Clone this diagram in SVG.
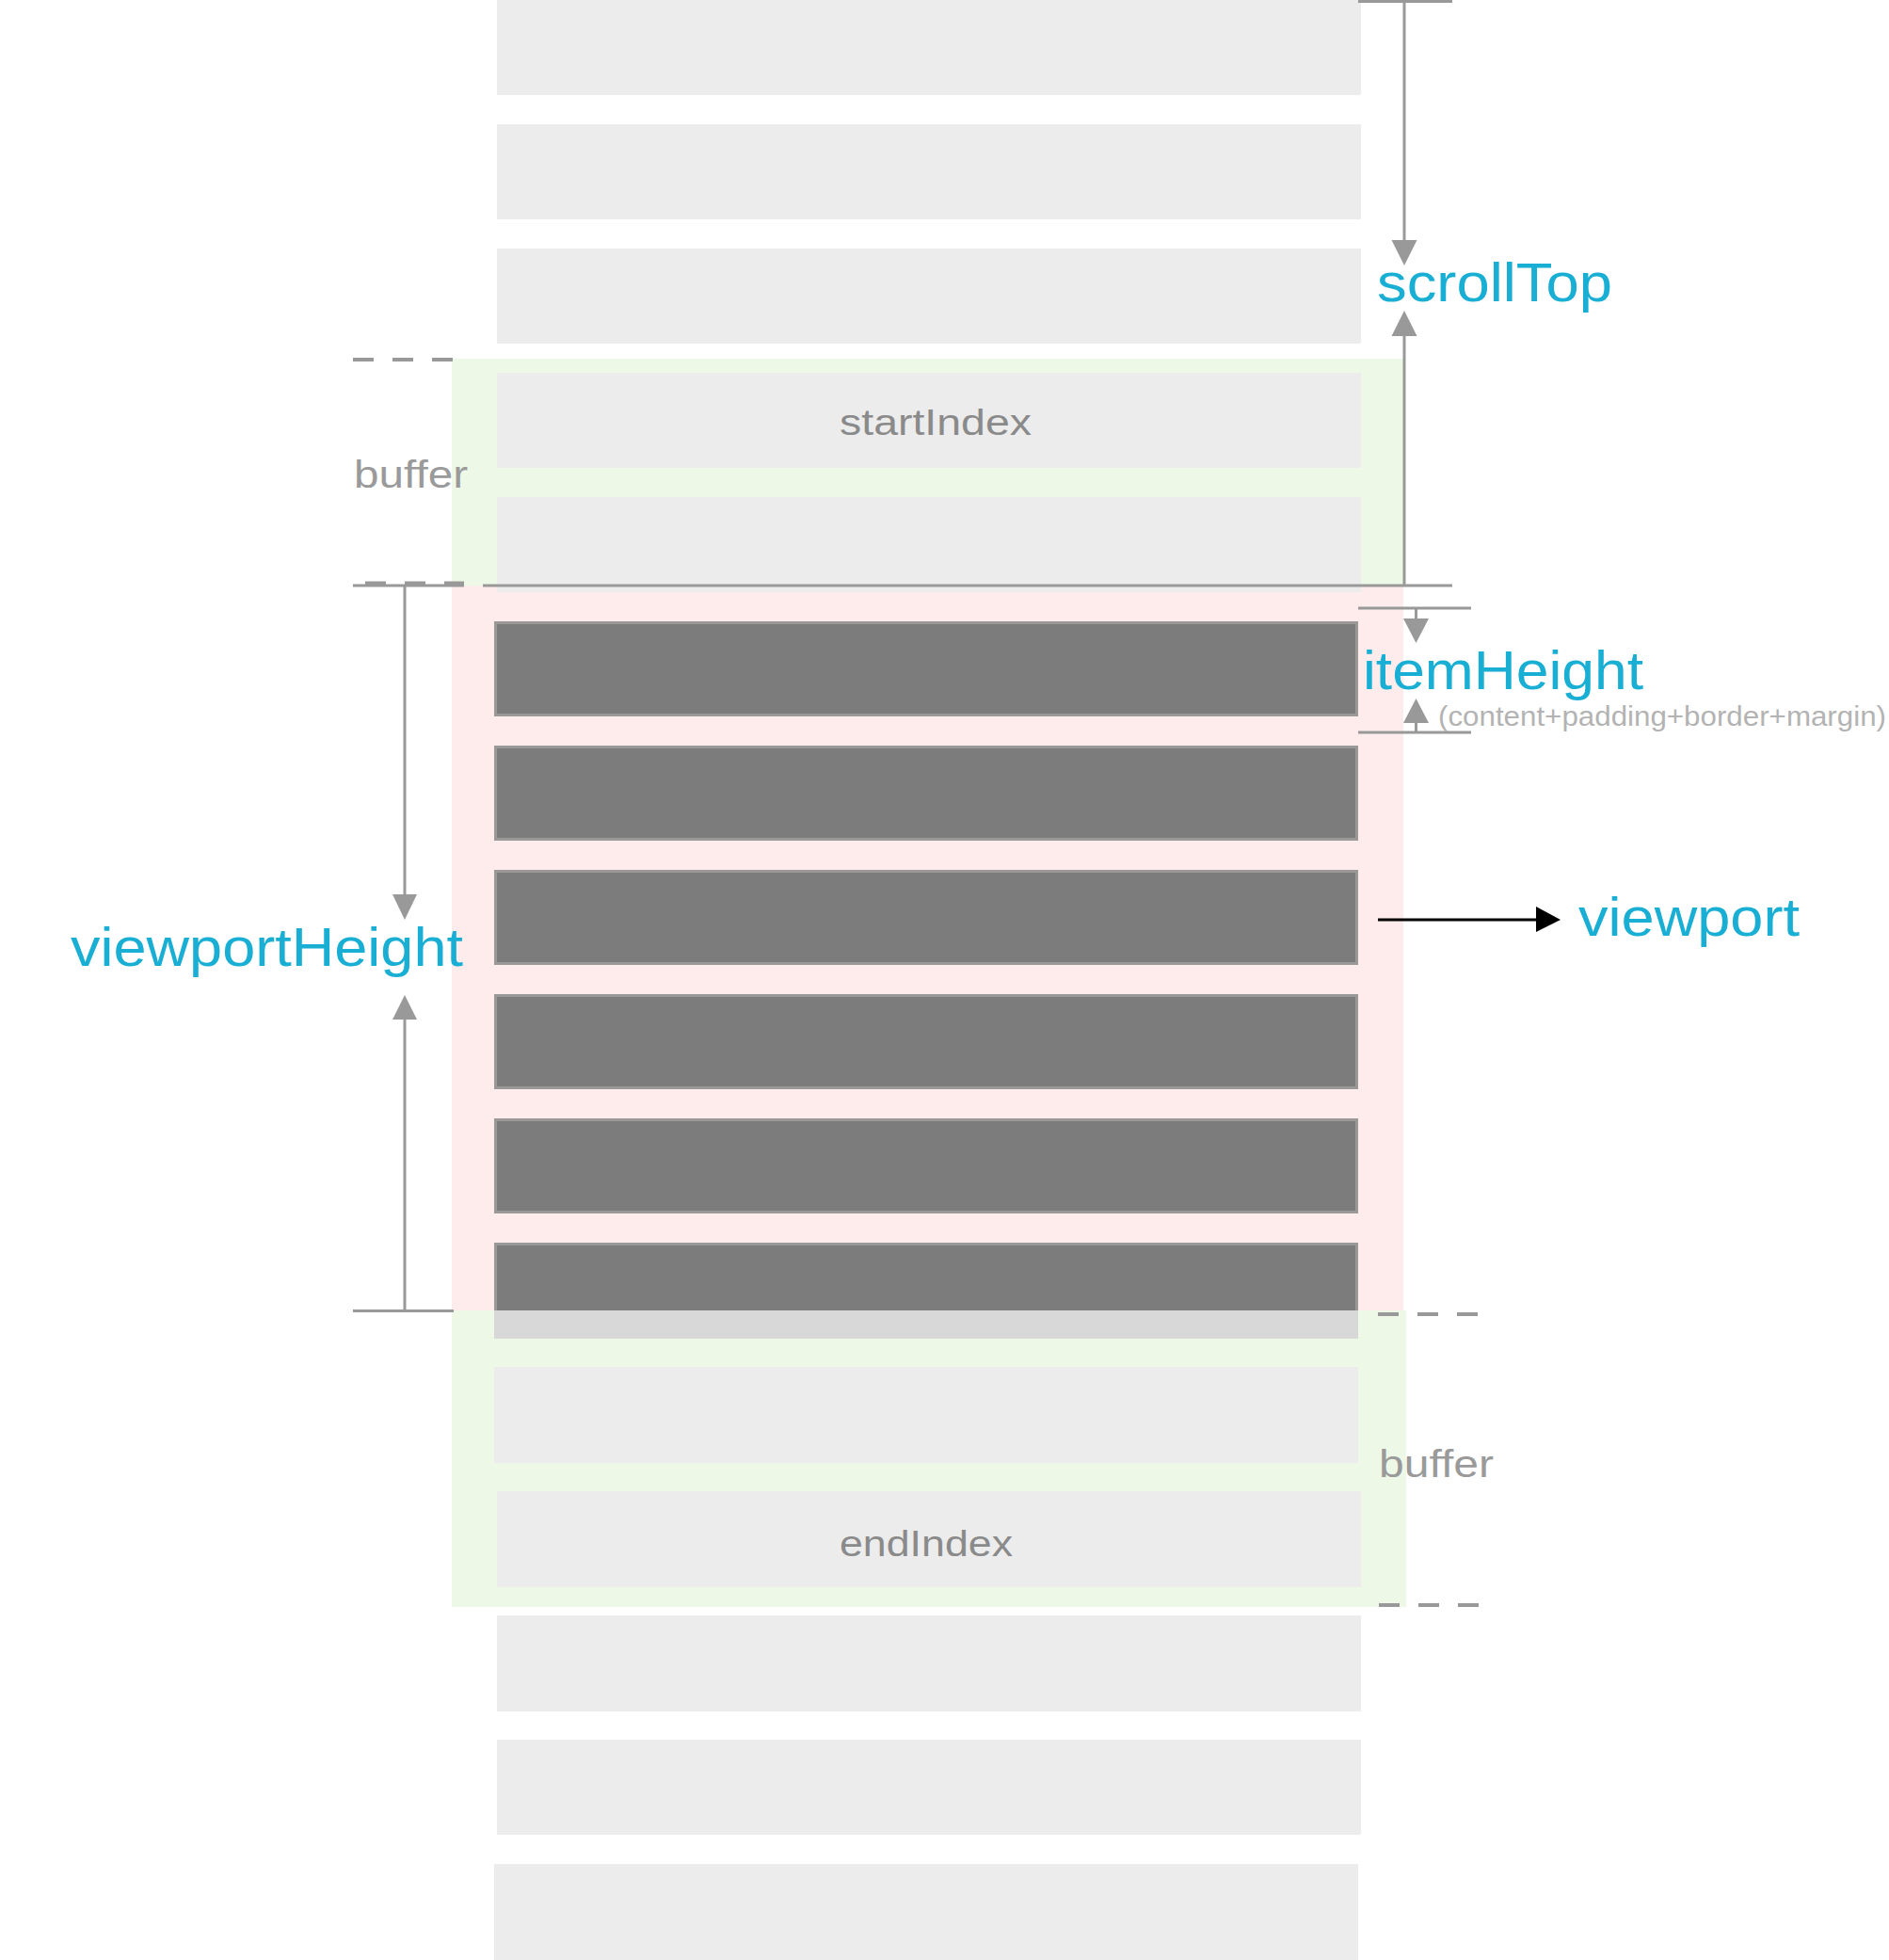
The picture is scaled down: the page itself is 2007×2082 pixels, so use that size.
<svg xmlns="http://www.w3.org/2000/svg" width="2007" height="2082" viewBox="0 0 2007 2082">
  <style>
    .light { fill: #ececec; }
    .dark { fill: #7c7c7c; stroke: #9b9898; stroke-width: 3; }
    .dim { stroke: #999999; stroke-width: 3; fill: none; }
    .dash { stroke: #999999; stroke-width: 4; fill: none; stroke-dasharray: 22 20; }
    .head { fill: #999999; }
    .blue { font-family: "Liberation Sans", Arial, sans-serif; font-size: 58px; fill: #19aed4; }
    .idx { font-family: "Liberation Sans", Arial, sans-serif; font-size: 38px; fill: #8a8a8a; }
    .buf { font-family: "Liberation Sans", Arial, sans-serif; font-size: 40px; fill: #9a9a9a; }
    .sub { font-family: "Liberation Sans", Arial, sans-serif; font-size: 29px; fill: #b3b3b3; }
  </style>
  <rect width="2007" height="2082" fill="#ffffff"/>

  <g id="regions">
    <rect id="buffer-top" x="480" y="381" width="1011" height="241" fill="#eef8e6"/>
    <rect id="viewport-area" x="480" y="622" width="1011" height="770" fill="#fdeceb"/>
    <rect id="buffer-bottom" x="480" y="1392" width="1014" height="315" fill="#eef8e6"/>
  </g>

  <g id="rows">
    <rect id="row1" class="light" x="528" y="0" width="918" height="101"/>
    <rect id="row2" class="light" x="528" y="132" width="918" height="101"/>
    <rect id="row3" class="light" x="528" y="264" width="918" height="101"/>
    <g id="row-start">
      <rect class="light" x="528" y="396" width="918" height="101"/>
      <text class="idx" x="892" y="462" textLength="204" lengthAdjust="spacingAndGlyphs">startIndex</text>
    </g>
    <rect id="row5" class="light" x="528" y="528" width="918" height="101"/>
    <rect id="vrow1" class="dark" x="526.5" y="661.5" width="915" height="98"/>
    <rect id="vrow2" class="dark" x="526.5" y="793.5" width="915" height="98"/>
    <rect id="vrow3" class="dark" x="526.5" y="925.5" width="915" height="98"/>
    <rect id="vrow4" class="dark" x="526.5" y="1057.5" width="915" height="98"/>
    <rect id="vrow5" class="dark" x="526.5" y="1189.5" width="915" height="98"/>
    <g id="vrow6">
      <rect x="525" y="1320" width="918" height="102" fill="#d8d8d8"/>
      <rect x="525" y="1320" width="918" height="72" fill="#7c7c7c"/>
      <path d="M526.5 1392 V1321.5 H1441.5 V1392" stroke="#9b9898" stroke-width="3" fill="none"/>
    </g>
    <rect id="row7" class="light" x="525" y="1452" width="918" height="102"/>
    <g id="row-end">
      <rect class="light" x="528" y="1584" width="918" height="102"/>
      <text class="idx" x="892" y="1653" textLength="184" lengthAdjust="spacingAndGlyphs">endIndex</text>
    </g>
    <rect id="row9" class="light" x="528" y="1716" width="918" height="102"/>
    <rect id="row10" class="light" x="528" y="1848" width="918" height="101"/>
    <rect id="row11" class="light" x="525" y="1980" width="918" height="102"/>
  </g>

  <g id="connectors">
    <!-- scrollTop dimension -->
    <line class="dim" x1="1443" y1="1.5" x2="1543" y2="1.5"/>
    <line class="dim" x1="1492" y1="0" x2="1492" y2="258"/>
    <polygon class="head" points="1478.5,255 1505.5,255 1492,282"/>
    <polygon class="head" points="1478.5,357 1505.5,357 1492,330"/>
    <line class="dim" x1="1492" y1="355" x2="1492" y2="622"/>
    <line class="dim" x1="513" y1="622" x2="1543" y2="622"/>
    <!-- left buffer / viewport markers -->
    <line class="dash" x1="375" y1="382" x2="483" y2="382" stroke-dasharray="24 18"/>
    <line class="dim" x1="375" y1="622" x2="493" y2="622"/>
    <line class="dash" x1="388" y1="619.5" x2="493" y2="619.5" stroke-dasharray="21 21"/>
    <!-- viewportHeight dimension -->
    <line class="dim" x1="430" y1="622" x2="430" y2="952"/>
    <polygon class="head" points="417,950 443,950 430,977"/>
    <polygon class="head" points="417,1083 443,1083 430,1057"/>
    <line class="dim" x1="430" y1="1080" x2="430" y2="1392"/>
    <line class="dim" x1="375" y1="1392.5" x2="482" y2="1392.5"/>
    <!-- itemHeight dimension -->
    <line class="dim" x1="1443" y1="646" x2="1563" y2="646"/>
    <line class="dim" x1="1504.5" y1="646" x2="1504.5" y2="660"/>
    <polygon class="head" points="1491,657 1518,657 1504.5,683"/>
    <polygon class="head" points="1491,768 1518,768 1504.5,742"/>
    <line class="dim" x1="1504.5" y1="765" x2="1504.5" y2="778"/>
    <line class="dim" x1="1443" y1="778" x2="1563" y2="778"/>
    <!-- right buffer markers -->
    <line class="dash" x1="1464" y1="1396" x2="1572" y2="1396" stroke-dasharray="24 18"/>
    <line class="dash" x1="1465" y1="1705" x2="1572" y2="1705" stroke-dasharray="22 20"/>
    <!-- viewport pointer -->
    <line x1="1464" y1="977" x2="1636" y2="977" stroke="#000000" stroke-width="3"/>
    <polygon points="1632,963 1658,977 1632,990" fill="#000000"/>
  </g>

  <g id="labels">
    <text id="scrollTop" class="blue" x="1463" y="320" textLength="250" lengthAdjust="spacingAndGlyphs">scrollTop</text>
    <text id="viewportHeight" class="blue" x="75" y="1026" textLength="417" lengthAdjust="spacingAndGlyphs">viewportHeight</text>
    <text id="itemHeight" class="blue" x="1448" y="732" textLength="298" lengthAdjust="spacingAndGlyphs">itemHeight</text>
    <text id="itemHeightNote" class="sub" x="1528" y="771" textLength="476" lengthAdjust="spacingAndGlyphs">(content+padding+border+margin)</text>
    <text id="viewport" class="blue" x="1677" y="994" textLength="235" lengthAdjust="spacingAndGlyphs">viewport</text>
    <text id="bufferTop" class="buf" x="376" y="518" textLength="121" lengthAdjust="spacingAndGlyphs">buffer</text>
    <text id="bufferBottom" class="buf" x="1465" y="1569" textLength="122" lengthAdjust="spacingAndGlyphs">buffer</text>
  </g>
</svg>
